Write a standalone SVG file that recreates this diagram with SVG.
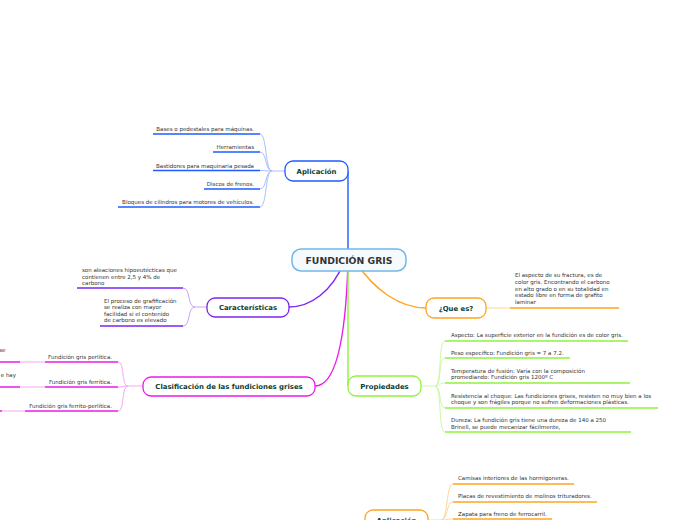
<svg xmlns="http://www.w3.org/2000/svg" width="697" height="520" viewBox="0 0 697 520">
<style>
.leaf{font-family:"DejaVu Sans",Verdana,sans-serif;font-size:5.5px;fill:#333}
.end{text-anchor:end}
.title{font-family:"DejaVu Sans",Verdana,sans-serif;font-size:6.9px;font-weight:bold;fill:#0d3d33;text-anchor:middle}
.node{fill:#fff;stroke-width:1.3}
.ul{fill:none;stroke-width:1.5}
.cn{fill:none;stroke-width:1}
.main{fill:none;stroke-width:1.4}
.blue{stroke:#1f5cff}.blueL{stroke:#a9c0ff}
.pur{stroke:#7b24f2}.purL{stroke:#c7a6f8}
.mag{stroke:#ec1be8}.magL{stroke:#f6a8f4}
.org{stroke:#ffa41f}.orgL{stroke:#ffd699}
.grn{stroke:#8ef23a}.grnL{stroke:#cdf8a8}
</style>
<rect width="697" height="520" fill="#fff"/>
<g id="connectors">
  <path class="main blue" d="M348,258 V171"/>
  <path class="main pur" d="M344,262 C 332,292 310,307 289,307"/>
  <path class="main mag" d="M348,262 C 346,330 338,386 315,386"/>
  <path class="main org" d="M356,262 C 374,290 400,308 426,308"/>
  <path class="main grn" d="M348,262 V386"/>
  <path class="cn blueL" d="M285,171 H272"/>
  <path class="cn blueL" d="M272,171 C 265,171 267,134 260,134"/>
  <path class="cn blueL" d="M272,171 C 265,171 267,152 260,152"/>
  <path class="cn blueL" d="M272,171 C 266,171 266,170.5 260,170.5"/>
  <path class="cn blueL" d="M272,171 C 265,171 267,189 260,189"/>
  <path class="cn blueL" d="M272,171 C 265,171 267,207 260,207"/>
  <path class="cn purL" d="M207,307 H195"/>
  <path class="cn purL" d="M195,307 C 187,307 191,288 183,288"/>
  <path class="cn purL" d="M195,307 C 187,307 191,326 183,326"/>
  <path class="cn magL" d="M143,386 H128"/>
  <path class="cn magL" d="M128,386 C 121,386 125,362 118,362"/>
  <path class="cn magL" d="M128,386 C 123,386 123,387 118,387"/>
  <path class="cn magL" d="M128,386 C 121,386 125,411 118,411"/>
  <path class="cn magL" d="M45,362 H20"/>
  <path class="cn magL" d="M45,387 H20"/>
  <path class="cn magL" d="M25,411 H2"/>
  <path class="cn orgL" d="M486,308 H510"/>
  <path class="cn grnL" d="M421,386 H435"/>
  <path class="cn grnL" d="M435,386 C 442,386 438,341 445,341"/>
  <path class="cn grnL" d="M435,386 C 442,386 438,358 445,358"/>
  <path class="cn grnL" d="M435,386 C 442,386 438,383 445,383"/>
  <path class="cn grnL" d="M435,386 C 442,386 438,408 445,408"/>
  <path class="cn grnL" d="M435,386 C 442,386 438,432 445,432"/>
  <path class="cn orgL" d="M428,520 H441"/>
  <path class="cn orgL" d="M441,520 C 448,520 446,484 453,484"/>
  <path class="cn orgL" d="M441,520 C 448,520 446,502 453,502"/>
  <path class="cn orgL" d="M441,520 C 447,520 447,519 453,519"/>
</g>
<g id="central">
  <rect x="292" y="249" width="114" height="22" rx="9" fill="#f5fafe" stroke="#74b6e6" stroke-width="1.5"/>
  <text x="349" y="263.8" font-family="'DejaVu Sans',Verdana,sans-serif" font-size="9.3" font-weight="bold" fill="#333" text-anchor="middle">FUNDICIÓN GRIS</text>
</g>
<g id="aplicacion">
  <rect class="node blue" x="285" y="161" width="63" height="20" rx="8"/>
  <text class="title" x="316.5" y="173.5">Aplicación</text>
</g>
<g id="aplicacion-leaves">
  <text class="leaf end" x="254" y="131">Bases o pedestales para máquinas.</text>
  <path class="ul blue" d="M153,134 H260"/>
  <text class="leaf end" x="254" y="149">Herramientas</text>
  <path class="ul blue" d="M213,152 H260"/>
  <text class="leaf end" x="254" y="167.5">Bastidores para maquinaria pesada</text>
  <path class="ul blue" d="M153,170.5 H260"/>
  <text class="leaf end" x="254" y="186">Discos de frenos.</text>
  <path class="ul blue" d="M204,189 H260"/>
  <text class="leaf end" x="254" y="204">Bloques de cilindros para motores de vehículos.</text>
  <path class="ul blue" d="M118,207 H260"/>
</g>
<g id="caracteristicas">
  <rect class="node pur" x="207" y="298" width="82" height="19" rx="8"/>
  <text class="title" x="248" y="310">Características</text>
</g>
<g id="caracteristicas-leaves">
  <text class="leaf" x="82" y="272">son aleaciones hipoeutécticas que</text>
  <text class="leaf" x="82" y="278.6">contienen entre 2,5 y 4% de</text>
  <text class="leaf" x="82" y="285.2">carbono</text>
  <path class="ul pur" d="M77,288 H183"/>
  <text class="leaf" x="104" y="302.5">El proceso de grafificación</text>
  <text class="leaf" x="104" y="309.1">se realiza con mayor</text>
  <text class="leaf" x="104" y="315.7">facilidad si el contenido</text>
  <text class="leaf" x="104" y="322.3">de carbono es elevado</text>
  <path class="ul pur" d="M100,326 H183"/>
</g>
<g id="clasificacion">
  <rect class="node mag" x="143" y="377" width="172" height="19" rx="8"/>
  <text class="title" x="229" y="389">Clasificación de las fundiciones grises</text>
</g>
<g id="clasificacion-leaves">
  <text class="leaf end" x="112" y="359">Fundición gris perlítica.</text>
  <path class="ul mag" d="M45,362 H118"/>
  <text class="leaf end" x="112" y="384">Fundición gris ferrítica.</text>
  <path class="ul mag" d="M45,387 H118"/>
  <text class="leaf end" x="112" y="408">Fundición gris ferrito-perlítica.</text>
  <path class="ul mag" d="M25,411 H118"/>
  <text class="leaf end" x="5.5" y="352">se</text>
  <path class="ul mag" d="M0,362 H20"/>
  <text class="leaf end" x="16" y="377">e hay</text>
  <path class="ul mag" d="M0,387 H20"/>
  <path class="ul mag" d="M0,411 H2"/>
</g>
<g id="que-es">
  <rect class="node org" x="426" y="298" width="60" height="20" rx="8"/>
  <text class="title" x="456" y="310.5">¿Que es?</text>
</g>
<g id="que-es-leaf">
  <text class="leaf" x="515" y="277">El aspecto de su fractura, es de</text>
  <text class="leaf" x="515" y="283.8">color gris. Encontrando el carbono</text>
  <text class="leaf" x="515" y="290.6">en alto grado o en su totalidad en</text>
  <text class="leaf" x="515" y="297.4">estado libre en forma de grafito</text>
  <text class="leaf" x="515" y="304.2">laminar</text>
  <path class="ul org" d="M510,308 H619"/>
</g>
<g id="propiedades">
  <rect class="node grn" x="348" y="376" width="73" height="20" rx="8"/>
  <text class="title" x="384.5" y="388.5">Propiedades</text>
</g>
<g id="propiedades-leaves">
  <text class="leaf" x="451" y="337">Aspecto: La superficie exterior en la fundición es de color gris.</text>
  <path class="ul grn" d="M445,341 H628"/>
  <text class="leaf" x="451" y="355">Peso específico: Fundición gris = 7 a 7.2.</text>
  <path class="ul grn" d="M445,358 H570"/>
  <text class="leaf" x="451" y="372.5">Temperatura de fusión: Varía con la composición</text>
  <text class="leaf" x="451" y="379.2">promediando: Fundición gris 1200º C</text>
  <path class="ul grn" d="M445,383 H630"/>
  <text class="leaf" x="451" y="397.5">Resistencia al choque: Las fundiciones grises, resisten no muy bien a los</text>
  <text class="leaf" x="451" y="404.2">choque y son frágiles porque no sufren deformaciones plásticas.</text>
  <path class="ul grn" d="M445,408 H658"/>
  <text class="leaf" x="451" y="422">Dureza: La fundición gris tiene una dureza de 140 a 250</text>
  <text class="leaf" x="451" y="428.7">Brinell, se puede mecanizar fácilmente,</text>
  <path class="ul grn" d="M445,432 H631"/>
</g>
<g id="aplicacion-2">
  <rect class="node org" x="365" y="510" width="63" height="20" rx="8"/>
  <text class="title" x="396.5" y="523">Aplicación</text>
</g>
<g id="aplicacion-2-leaves">
  <text class="leaf" x="458" y="480">Camisas interiores de las hormigoneras.</text>
  <path class="ul org" d="M453,484 H574"/>
  <text class="leaf" x="458" y="498">Placas de revestimiento de molinos trituradores.</text>
  <path class="ul org" d="M453,502 H597"/>
  <text class="leaf" x="458" y="515.5">Zapata para freno de ferrocarril.</text>
  <path class="ul org" d="M453,519 H552"/>
</g>
</svg>
